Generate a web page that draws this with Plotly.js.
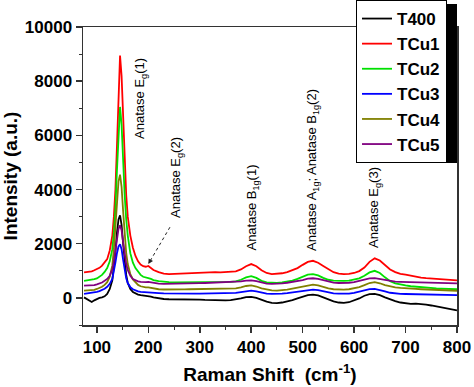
<!DOCTYPE html>
<html>
<head>
<meta charset="utf-8">
<script src="https://cdn.plot.ly/plotly-3.0.1.min.js"></script>
<style>html,body{margin:0;padding:0;background:#fff;}#chart{width:474px;height:387px;}</style>
</head>
<body>
<div id="chart"></div>
<script>
// Raman shift (cm-1)
var ramanShift = [75,80,85,90,95,100,105,110,115,120,125,130,133,136,139,142,145,148,151,154,157,160,165,170,175,180,185,190,195,200,205,210,
220,230,240,250,260,270,280,290,300,310,320,330,340,350,360,370,380,390,400,410,420,430,440,450,460,470,480,490,500,510,520,530,540,550,560,570,580,590,600,610,620,630,640,650,660,670,680,690,700,710,720,730,740,750,760,770,780,790,800];

var seriesNames = ["T400","TCu1","TCu2","TCu3","TCu4","TCu5"];

var T400 = [20,-30,-110,-150,-90,-40,0,20,60,150,330,650,1100,1700,2400,2900,3050,2700,2000,1350,850,550,330,220,160,120,100,90,85,80,50,20,
-20,-40,-50,-50,-45,-40,-50,-60,-60,-70,-80,-90,-100,-90,-80,-60,-20,30,40,0,-70,-140,-180,-190,-170,-130,-80,-20,50,100,120,90,20,-60,-130,-170,-180,-160,-100,-20,80,140,150,100,20,-60,-120,-170,-200,-220,-210,-220,-250,-280,-320,-360,-400,-430,-460];

var TCu1 = [940,950,960,980,1020,1060,1110,1190,1300,1430,1750,2300,3000,4000,5600,7600,8950,8200,6600,5000,3800,3000,2300,1850,1550,1350,1230,1170,1150,1180,1120,1030,
950,900,880,890,900,910,920,930,940,950,960,950,940,950,960,980,1050,1170,1250,1170,1020,920,880,890,910,950,1020,1100,1220,1330,1370,1300,1180,1050,950,900,880,890,920,990,1120,1330,1460,1380,1200,1050,950,890,860,820,780,750,730,720,700,690,670,660,650];

var TCu2 = [630,640,650,660,690,720,770,850,960,1100,1350,1800,2400,3300,4700,6200,7050,6400,5000,3800,2900,2300,1650,1300,1100,950,850,780,740,730,700,660,
620,590,580,575,575,575,575,575,575,575,580,580,580,585,590,610,670,760,800,740,630,570,550,555,570,600,640,700,780,860,880,830,740,670,640,630,630,640,670,720,820,940,1000,920,760,620,540,490,460,430,410,390,370,360,350,340,330,325,320];

var TCu3 = [150,160,170,180,195,220,250,290,340,410,520,700,950,1300,1650,1900,1980,1800,1400,1000,720,550,400,320,270,240,220,210,210,210,200,190,
175,165,160,160,160,160,160,160,160,160,160,165,165,170,175,185,215,255,270,240,190,160,150,150,160,180,205,235,265,295,305,285,245,200,170,155,150,160,185,225,280,325,335,300,240,190,165,150,145,140,135,130,125,120,115,115,110,110,105];

var TCu4 = [270,275,280,290,300,330,360,410,480,580,780,1200,1800,2600,3500,4300,4550,4100,3200,2300,1650,1250,880,680,560,480,430,400,390,390,370,350,
320,310,305,305,310,315,320,325,330,330,330,330,330,335,340,355,390,440,460,420,350,300,275,270,280,305,340,380,420,470,490,460,400,350,320,305,305,320,350,400,470,550,580,540,470,420,390,370,350,340,330,320,310,300,295,285,280,270,265];

var TCu5 = [450,450,455,460,470,500,530,570,630,700,820,1050,1350,1750,2200,2550,2680,2500,2050,1600,1250,1030,820,700,640,610,590,580,580,590,570,550,
530,520,520,525,530,540,545,545,545,550,555,560,565,570,575,585,610,640,650,620,570,530,515,520,535,560,590,620,660,710,725,700,650,600,565,550,550,560,580,620,680,720,730,700,650,615,600,595,590,585,580,575,570,565,560,555,550,545,540];

var seriesValues = [T400, TCu1, TCu2, TCu3, TCu4, TCu5];
var seriesColors = ["#000000","#ff0000","#00e000","#0000ff","#808000","#800080"];

// Peak labels
var peakLabels = ["Anatase E<sub>g</sub>(1)","Anatase E<sub>g</sub>(2)","Anatase B<sub>1g</sub>(1)","Anatase A<sub>1g</sub>; Anatase B<sub>1g</sub>(2)","Anatase E<sub>g</sub>(3)"];
var peakLabelX = [186, 255, 402, 519, 640];
var peakLabelY = [7350, 4450, 3345, 4740, 3345];

var xTickVals = [100,200,300,400,500,600,700,800];
var yTickVals = [0,2000,4000,6000,8000,10000];
var yTickText = ["0","2000","4000","6000","8000","10000"];

var traces = seriesNames.map(function(n, i){
  return {
    x: ramanShift, y: seriesValues[i], type: 'scatter', mode: 'lines', name: n,
    line: {color: seriesColors[i], width: 1.8}
  };
});

var font = "Arial, 'Liberation Sans', sans-serif";

var annotations = peakLabels.map(function(t, i){
  return {x: peakLabelX[i], y: peakLabelY[i], xref: 'x', yref: 'y', text: t, showarrow: false,
    textangle: -90, font: {family: font, size: 13, color: '#000'}};
});
annotations.push({x: 200, y: 1250, xref: 'x', yref: 'y', ax: 206, ay: 1450, axref: 'x', ayref: 'y',
  text: '', showarrow: true, arrowhead: 2, arrowsize: 1, arrowwidth: 1, arrowcolor: '#222', standoff: 0});

var layout = {
  width: 474, height: 387,
  margin: {l: 83, r: 17, t: 27, b: 62, autoexpand: false},
  paper_bgcolor: '#fff', plot_bgcolor: '#fff',
  showlegend: true,
  legend: {x: 0.73, y: 1.0906, xanchor: 'left', yanchor: 'top', bgcolor: '#fff', bordercolor: '#000', borderwidth: 1,
    font: {family: font, size: 17, weight: 'bold', color: '#000'}},
  xaxis: {range: [73, 800], tickvals: xTickVals, ticks: 'outside', ticklen: 6, tickwidth: 1.5, tickcolor: '#333',
    showline: true, mirror: true, linecolor: '#333', linewidth: 1.5, showgrid: false, zeroline: false,
    minor: {dtick: 50, tick0: 0, ticks: 'outside', ticklen: 3, tickwidth: 1, tickcolor: '#333', showgrid: false},
    tickfont: {family: font, size: 17, weight: 'bold', color: '#000'},
    title: {text: 'Raman Shift  (cm<sup>-1</sup>)', font: {family: font, size: 19, weight: 'bold', color: '#000'}, standoff: 12}},
  yaxis: {range: [-1000, 10000], tickvals: yTickVals, ticktext: yTickText, ticks: 'outside', ticklen: 6, tickwidth: 1.5, tickcolor: '#333',
    showline: true, mirror: true, linecolor: '#333', linewidth: 1.5, showgrid: false, zeroline: false,
    minor: {dtick: 1000, tick0: 0, ticks: 'outside', ticklen: 3, tickwidth: 1, tickcolor: '#333', showgrid: false},
    tickfont: {family: font, size: 17, weight: 'bold', color: '#000'},
    title: {text: 'Intensity (a.u.)', font: {family: font, size: 19, weight: 'bold', color: '#000'}, standoff: 6}},
  shapes: [
    {type: 'line', xref: 'x', yref: 'y', x0: 242, y0: 2610, x1: 204, y1: 1380, line: {color: '#222', width: 1, dash: 'dot'}},
    {type: 'rect', xref: 'paper', yref: 'paper', x0: 0.741, x1: 1.0, y0: 0.544, y1: 1.077, fillcolor: '#000', line: {width: 0}, layer: 'above'}
  ],
  annotations: annotations
};

Plotly.newPlot('chart', traces, layout, {displayModeBar: false, staticPlot: true});
</script>
</body>
</html>
